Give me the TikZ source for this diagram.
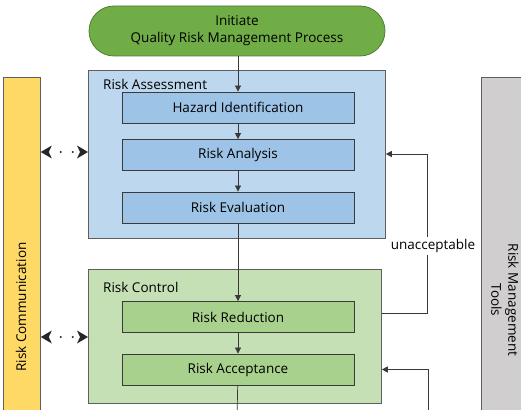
\documentclass[tikz,border=0pt]{standalone}
\usepackage{fontspec}
\setmainfont{Open Sans}
\usetikzlibrary{arrows.meta}
\definecolor{startGreen}{HTML}{70AD47}
\definecolor{startEdge}{HTML}{507E32}
\definecolor{panelBlue}{HTML}{BDD7EE}
\definecolor{stepBlue}{HTML}{9DC3E6}
\definecolor{panelGreen}{HTML}{C5E0B4}
\definecolor{stepGreen}{HTML}{A9D18E}
\definecolor{commYellow}{HTML}{FFD966}
\definecolor{toolGray}{HTML}{D0CECE}
\definecolor{edgeGray}{HTML}{5F5F5F}
\definecolor{lineGray}{HTML}{3A3A3A}
\begin{document}
\begin{tikzpicture}[x=1pt,y=-1pt,font=\fontsize{13.5}{17}\selectfont,
  panel/.style={draw=edgeGray,line width=0.8pt,anchor=north west,inner sep=0pt},
  stepbox/.style={draw=lineGray,line width=0.8pt,minimum width=232pt,minimum height=31pt,inner sep=0pt},
  arr/.style={-{Triangle[length=6pt,width=6pt]},line width=0.7pt,draw=lineGray},
  dotarr/.style={{Stealth[length=11pt,width=13pt,inset=3pt,line width=0pt]}-{Stealth[length=11pt,width=13pt,inset=3pt,line width=0pt]},
    draw=black!85,dash pattern=on 0pt off 300pt,dash phase=150pt,
    postaction={draw,-,line width=2.2pt,line cap=round,dash pattern=on 0pt off 12pt on 0pt off 60pt,dash phase=52pt}}]
\useasboundingbox (0,0) rectangle (521,409);
\clip (0,0) rectangle (521,409);
\node[panel,fill=commYellow,minimum width=37pt,minimum height=343pt] (comm) at (3,77) {};
\node[rotate=90] (commTxt) at (21,307) {Risk Communication};
\node[panel,fill=toolGray,minimum width=54pt,minimum height=343pt] (tools) at (481,77) {};
\node[rotate=-90,align=center] (toolsTxt) at (505,300) {Risk Management\\Tools};
\node[draw=startEdge,line width=0.8pt,fill=startGreen,rounded corners=25pt,minimum width=296pt,minimum height=50pt,align=center] (start) at (237,31) {Initiate\\Quality Risk Management Process};
\node[panel,fill=panelBlue,minimum width=297pt,minimum height=168pt] (assess) at (88,70) {};
\node[anchor=west,inner sep=0pt] (assessTxt) at (103,84) {Risk Assessment};
\node[stepbox,fill=stepBlue] (hazard) at (238,107.5) {Hazard Identification};
\node[stepbox,fill=stepBlue] (analysis) at (238,155) {Risk Analysis};
\node[stepbox,fill=stepBlue] (evaluation) at (238,207.5) {Risk Evaluation};
\node[panel,fill=panelGreen,minimum width=293pt,minimum height=134pt] (control) at (88,269) {};
\node[anchor=west,inner sep=0pt] (controlTxt) at (103,287) {Risk Control};
\node[stepbox,fill=stepGreen] (reduction) at (238,317) {Risk Reduction};
\node[stepbox,fill=stepGreen] (accept) at (238,369.5) {Risk Acceptance};
\coordinate (loopIn) at (428,420);
\coordinate (exit) at (237,420);
\draw[arr] (start.south -| hazard.north) -- (hazard);
\draw[arr] (hazard) -- (analysis);
\draw[arr] (analysis) -- (evaluation);
\draw[arr] (evaluation) -- (reduction);
\draw[arr] (reduction) -- (accept);
\draw[arr,-] (accept) -- (exit);
\draw[arr] (control.east |- 0,313) -- (427,313) -- node[pos=0.42,fill=white,inner sep=2pt,xshift=6pt] (unacc) {unacceptable} (427,154) -- (assess.east |- 0,154);
\draw[arr] (loopIn) |- (control.east |- accept);
\draw[dotarr] (comm.east |- 0,152) -- (assess.west |- 0,152);
\draw[dotarr] (comm.east |- 0,337) -- (control.west |- 0,337);
\end{tikzpicture}
\end{document}
